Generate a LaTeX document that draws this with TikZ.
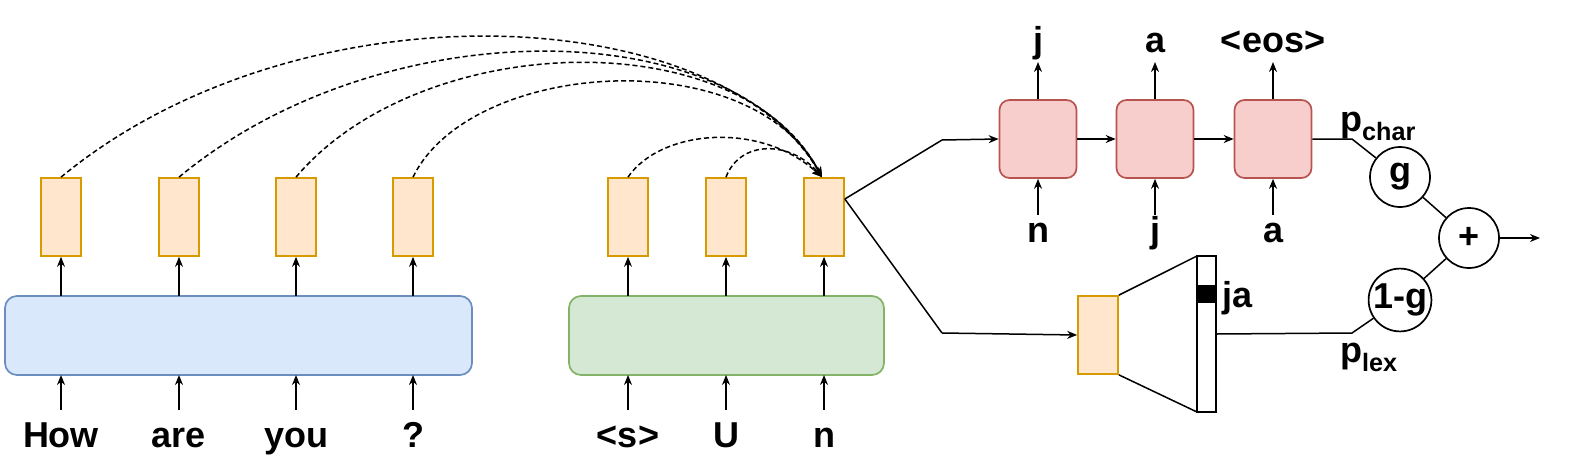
\documentclass[tikz,border=0pt]{standalone}
\usepackage{fontspec}
\setmainfont{Liberation Sans}
\usetikzlibrary{arrows.meta}
\definecolor{bfill}{HTML}{DAE8FC}\definecolor{bline}{HTML}{6C8EBF}
\definecolor{gfill}{HTML}{D5E8D4}\definecolor{gline}{HTML}{82B366}
\definecolor{ofill}{HTML}{FFE6CC}\definecolor{oline}{HTML}{D79B00}
\definecolor{rfill}{HTML}{F8CECC}\definecolor{rline}{HTML}{B85450}
\begin{document}
\begin{tikzpicture}[x=1pt,y=-1pt,
 every node/.style={inner sep=0pt,font=\fontsize{36}{40}\selectfont\bfseries},
 lbl/.style={anchor=base},
 orect/.style={draw=oline,fill=ofill,line width=1.7pt,minimum width=40pt,minimum height=78pt},
 rbox/.style={draw=rline,fill=rfill,line width=1.7pt,rounded corners=10pt,minimum width=77pt,minimum height=78pt},
 circ/.style={draw,circle,line width=1.7pt,minimum size=60pt},
 arr/.style={-{Stealth[length=10pt,width=8pt]},line width=1.5pt},
 ln/.style={line width=1.5pt},
 dsh/.style={dash pattern=on 5pt off 3pt,line width=1.5pt,-{Stealth[length=10pt,width=8pt]}}]
\useasboundingbox (0,0) rectangle (1581,474);
\node[draw=bline,fill=bfill,line width=1.7pt,rounded corners=12pt,minimum width=467pt,minimum height=79pt] (enc) at (238.5,335.5) {};
\node[draw=gline,fill=gfill,line width=1.7pt,rounded corners=12pt,minimum width=315pt,minimum height=79pt] (dec) at (726.5,335.5) {};
\foreach \n/\x/\t in {o1/61/How,o2/179/are,o3/296/you,o4/413/?,o5/628/<s>,o6/726/U,o7/824/n}{
 \node[orect] (\n) at (\x,217) {};
 \node[lbl] (t\n) at (\x,447) {\t};
 \coordinate (b\n) at (\x,375);
 \coordinate (c\n) at (\x,410);
 \draw[arr] (c\n) -- (b\n);
 \coordinate (u\n) at (\x,296);
 \draw[arr] (u\n) -- (\n.south);
}
\draw[dsh] (o1.north) .. controls (300,-20) and (720,0) .. ([xshift=-2pt]o7.north);
\draw[dsh] (o2.north) .. controls (380,10) and (730,10) .. ([xshift=-2pt]o7.north);
\draw[dsh] (o3.north) .. controls (420,30) and (740,20) .. ([xshift=-2pt]o7.north);
\draw[dsh] (o4.north) .. controls (470,60) and (750,40) .. ([xshift=-2pt]o7.north);
\draw[dsh] (o5.north) .. controls (660,130) and (760,120) .. ([xshift=-2pt]o7.north);
\draw[dsh] (o6.north) .. controls (740,140) and (790,140) .. ([xshift=-2pt]o7.north);
\foreach \n/\x/\o/\i in {r1/1038/j/n,r2/1155/a/j,r3/1273/<eos>/a}{
 \node[rbox] (\n) at (\x,139) {};
 \node[lbl] (o\n) at (\x,52) {\o};
 \coordinate (e\n) at (\x,62);
 \draw[arr] (\n.north) -- (e\n);
 \node[lbl] (i\n) at (\x,242) {\i};
 \coordinate (s\n) at (\x,215);
 \draw[arr] (s\n) -- (\n.south);
}
\draw[arr] (r1) -- (r2); \draw[arr] (r2) -- (r3);
\coordinate (k1) at (942,140); \coordinate (k2) at (942,333);
\draw[ln] ([yshift=18pt]o7.east) -- (k1); \draw[arr] (k1) -- (r1.west);
\draw[ln] ([yshift=18pt]o7.east) -- (k2);
\node[orect] (lo) at (1098,335) {};
\draw[arr] (k2) -- (lo.west);
\coordinate (t1) at (1197,256); \coordinate (t2) at (1197,412);
\draw[ln] (lo.north east) -- (t1); \draw[ln] (lo.south east) -- (t2);
\node[draw,fill=white,line width=1.7pt,minimum width=19pt,minimum height=156pt] (bar) at (1206.5,334) {};
\node[fill=black,minimum width=19pt,minimum height=18pt] (blk) at (1206.5,294) {};
\node[anchor=base west] (ja) at (1222,307) {ja};
\node[circ] (g) at (1400,177) {g};
\node[circ] (g1) at (1400,300) {1-g};
\node[circ] (pl) at (1469,238) {+};
\coordinate (pc) at (1352,139); \coordinate (pq) at (1352,333);
\draw[ln] (r3.east) -- (pc) -- (g);
\draw[ln] (bar.east) -- (pq) -- (g1);
\draw[ln] (g) -- (pl); \draw[ln] (g1) -- (pl);
\coordinate (out) at (1540,238);
\draw[arr] (pl) -- (out);
\node[anchor=base west] (pch) at (1340,131) {p\textsubscript{char}};
\node[anchor=base west] (plx) at (1340,362) {p\textsubscript{lex}};
\end{tikzpicture}
\end{document}
